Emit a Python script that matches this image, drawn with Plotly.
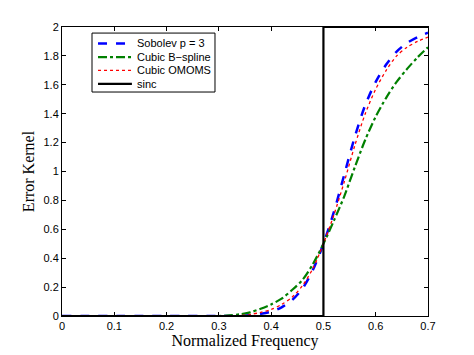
import plotly.graph_objects as go

freq = [0.0, 0.30, 0.32, 0.34, 0.36, 0.38, 0.40, 0.42, 0.44, 0.46, 0.48, 0.50,
        0.52, 0.54, 0.56, 0.58, 0.60, 0.62, 0.64, 0.66, 0.68, 0.70]

sobolev = [0.0, 0.0, 0.0, 0.0, 0.005, 0.015, 0.03, 0.06, 0.11, 0.19, 0.32, 0.50,
           0.72, 0.98, 1.24, 1.46, 1.62, 1.74, 1.83, 1.89, 1.93, 1.96]
bspline = [0.0, 0.0, 0.004, 0.012, 0.025, 0.05, 0.08, 0.12, 0.18, 0.25, 0.36, 0.50,
           0.66, 0.83, 1.03, 1.22, 1.38, 1.51, 1.62, 1.71, 1.79, 1.86]
omoms = [0.0, 0.0, 0.0, 0.003, 0.01, 0.025, 0.045, 0.08, 0.13, 0.21, 0.33, 0.50,
         0.70, 0.93, 1.18, 1.40, 1.57, 1.70, 1.80, 1.86, 1.90, 1.93]

sinc_x = [0.0, 0.5, 0.5, 0.7]
sinc_y = [0.0, 0.0, 2.0, 2.0]

xticks = [0, 0.1, 0.2, 0.3, 0.4, 0.5, 0.6, 0.7]
yticks = [0, 0.2, 0.4, 0.6, 0.8, 1, 1.2, 1.4, 1.6, 1.8, 2]

names = ["Sobolev p = 3", "Cubic B\u2212spline", "Cubic OMOMS", "sinc"]
styles = [dict(color="#0000ff", width=2.5, dash="dash"),
          dict(color="#008000", width=2.2, dash="dashdot"),
          dict(color="#ff0000", width=1.3, dash="dot"),
          dict(color="black", width=2.2)]

fig = go.Figure()
for xs, ys, nm, st in [(freq, sobolev, names[0], styles[0]),
                       (freq, bspline, names[1], styles[1]),
                       (freq, omoms, names[2], styles[2])]:
    fig.add_trace(go.Scatter(x=xs, y=ys, mode="lines", name=nm,
                             line=dict(shape="spline", smoothing=0.8, **st),
                             showlegend=False))
fig.add_trace(go.Scatter(x=sinc_x, y=sinc_y, mode="lines", name=names[3],
                         line=styles[3], showlegend=False))

axis_common = dict(showgrid=False, zeroline=False, showline=True, linecolor="black",
                   linewidth=1, mirror="ticks", ticks="inside", ticklen=4,
                   tickcolor="black", automargin=False,
                   tickfont=dict(family="Liberation Sans, Arial", size=11, color="black"))

fig.update_xaxes(range=[0, 0.7], tickvals=xticks, ticktext=[str(v) for v in xticks],
                 title=dict(text="Normalized Frequency",
                            font=dict(family="Liberation Serif, Times New Roman", size=16, color="black"),
                            standoff=0),
                 **axis_common)
fig.update_yaxes(range=[0, 2], tickvals=yticks, ticktext=[str(v) for v in yticks],
                 title=dict(text="Error Kernel",
                            font=dict(family="Liberation Serif, Times New Roman", size=16, color="black"),
                            standoff=4),
                 **axis_common)

# manual legend (matches the compact MATLAB legend box)
box = dict(x0=0.082, x1=0.418, y0=0.775, y1=0.979)
fig.add_shape(type="rect", xref="paper", yref="paper", line=dict(color="black", width=1),
              fillcolor="white", layer="above", **box)
row_y = [0.943, 0.896, 0.850, 0.803]
for ry, nm, st in zip(row_y, names, styles):
    fig.add_shape(type="line", xref="paper", yref="paper", x0=0.0984, x1=0.191,
                  y0=ry, y1=ry, line=st, layer="above")
    fig.add_annotation(xref="paper", yref="paper", x=0.1995, y=ry, text=nm,
                       showarrow=False, xanchor="left", yanchor="middle",
                       font=dict(family="Liberation Sans, Arial", size=11, color="black"))

fig.update_layout(
    width=474, height=355,
    margin=dict(l=62, r=46, t=27, b=39),
    plot_bgcolor="white", paper_bgcolor="white",
    showlegend=False,
)

fig.write_html("out.html", config={"displayModeBar": False},
               post_script="document.body.style.margin='0';document.body.style.overflow='hidden';")
